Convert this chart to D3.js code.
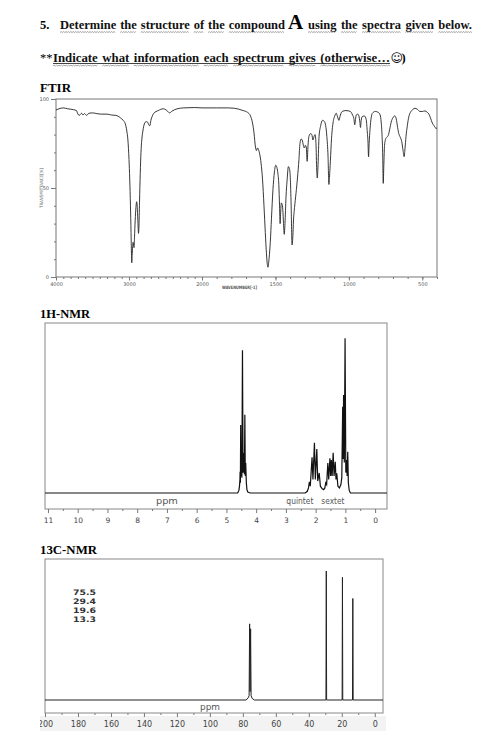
<!DOCTYPE html>
<html>
<head>
<meta charset="utf-8">
<script src="https://cdn.jsdelivr.net/npm/d3@7"></script>
<style>
body { margin: 0; background: #fff; }
svg { display: block; }
</style>
</head>
<body>
<svg id="page" width="483" height="745"></svg>
<script>
// FTIR: [wavenumber cm-1, transmittance %]
var irSpectrum = [
	[4000,93.8],[3960,94.5],[3900,95],[3840,94.5],[3760,94],[3720,93.5],[3700,91.5],[3680,90.8],[3665,91.5],[3650,92],
	[3630,91],[3610,91.8],[3580,90.8],[3550,92],[3500,92.2],[3440,91.8],[3380,91.5],[3300,91.5],[3240,91],[3180,90.8],
	[3120,89.5],[3080,88],[3050,86],[3030,82],[3015,77],[3000,66],[2990,55],[2980,40],[2972,25],[2966,13],[2962,8],
	[2957,12],[2950,17],[2944,19.5],[2937,18],[2931,16.5],[2925,22],[2915,32],[2905,39],[2895,42.3],[2885,38],[2877,30],
	[2870,24.5],[2864,28],[2856,42],[2846,58],[2836,70],[2825,77],[2810,82],[2790,86],[2765,87.3],[2745,87],[2730,85.5],
	[2715,85],[2700,88],[2680,90.5],[2660,92],[2600,93.5],[2530,94.5],[2480,93.5],[2445,92.2],[2410,93.2],[2340,94.5],
	[2250,95],[2100,95.2],[2000,95],[1900,95],[1820,95],[1780,94.8],[1750,94.3],[1720,93.5],[1690,92.5],[1670,90.5],
	[1656,86.5],[1646,81],[1636,73],[1629,71],[1622,72.5],[1615,71.5],[1607,69],[1598,64],[1588,55],[1578,40],[1569,25],
	[1561,13],[1555,7],[1551,5.5],[1547,7.5],[1541,12.5],[1535,19.5],[1527,33],[1517,49],[1507,59],[1498,62.8],[1490,61.5],
	[1483,58],[1477,52],[1472,40],[1468,30],[1464,37],[1460,41.6],[1455,41],[1450,38],[1445,30],[1440,24],[1435,30],
	[1428,45],[1420,55],[1412,62],[1405,61],[1399,56],[1393,40],[1387,18],[1382,22],[1377,32],[1370,39],[1360,47],
	[1350,55.6],[1340,66],[1333,75],[1325,77.5],[1318,77],[1310,74],[1303,72.5],[1296,74],[1290,73],[1284,65],[1278,74],
	[1272,79],[1262,80.5],[1252,80],[1245,77],[1237,79],[1230,80],[1224,75],[1219,60],[1215,55.6],[1210,63],[1203,79],
	[1192,85],[1180,88],[1168,87.5],[1158,85],[1150,79],[1142,68],[1136,52],[1132,56],[1126,65],[1118,78],[1108,86.5],
	[1096,90.5],[1086,92],[1077,90],[1068,88],[1058,91],[1045,93],[1020,93.5],[990,93],[975,91],[966,89],[960,85.5],
	[955,88.5],[950,91],[940,91.5],[932,90.5],[925,87],[921,84],[916,88],[910,90],[895,90.5],[882,88.5],[876,83],
	[870,76],[866,67.5],[862,75],[856,83],[848,89.5],[840,92],[820,93],[800,92.5],[787,91],[780,87],[775,81],[770,70],
	[766,52.6],[762,63],[757,74],[750,77.5],[742,78.5],[732,79.5],[722,83],[712,87],[700,89.5],[688,90.5],[678,89],
	[668,84],[660,80.5],[650,78.5],[640,76],[631,71],[624,67.6],[618,72],[611,79],[602,85],[592,90],[581,92.5],[566,94],
	[550,94.8],[535,94.3],[516,93],[500,93],[482,93.3],[466,92.5],[455,91.5],[445,89.5],[432,86.5],[420,85],[410,83.7],[400,83.5]
];
var irXTicks = [4000, 3000, 2000, 1500, 1000, 500];
var irYTicks = [0, 50, 100];

// 1H-NMR: [ppm, intensity %]
var h1Trace = [
	[11.1,0],[4.62,0],[4.58,1.5],[4.56,4],[4.545,8],[4.54,12.5],[4.53,6],[4.52,40],[4.51,10],[4.50,21],[4.48,9],
	[4.46,84],[4.44,12],[4.41,23.5],[4.395,11],[4.38,46],[4.365,10],[4.35,17.6],[4.33,6],[4.31,2],[4.28,0.5],[4.2,0],
	[2.35,0],[2.28,1],[2.24,3],[2.21,6.6],[2.18,4],[2.12,21],[2.09,8],[2.04,29.6],[2.01,8],[1.96,25.9],[1.93,7],
	[1.88,11.8],[1.84,4],[1.78,2.5],[1.73,2],[1.69,3],[1.66,6],[1.63,5],[1.59,17.6],[1.56,8],[1.52,20.4],[1.495,10],
	[1.47,19.4],[1.445,10],[1.41,23.7],[1.38,10],[1.34,18.4],[1.315,8],[1.29,11.6],[1.25,4],[1.2,3],[1.15,5],[1.12,9],
	[1.09,50.8],[1.075,20],[1.06,57.6],[1.035,18],[1.01,91],[0.985,12],[0.96,19.4],[0.94,10],[0.92,24.3],[0.9,6],
	[0.87,1.5],[0.83,0],[-0.4,0]
];
var h1Ticks = [11, 10, 9, 8, 7, 6, 5, 4, 3, 2, 1, 0];

// 13C-NMR: [ppm, intensity %]
var c13Trace = [
	[200,0],[78,0],[76.8,1.5],[76.2,3],[75.9,54],[75.6,6],[75.3,50.5],[75,3],[74.3,1],[73,0],
	[29.6,0],[29.4,91.5],[29.2,0],[19.8,0],[19.6,87],[19.4,0],[13.5,0],[13.3,72],[13.1,0],[-5,0]
];
var c13Ticks = [200, 180, 160, 140, 120, 100, 80, 60, 40, 20, 0];
var c13PeakList = ["75.5", "29.4", "19.6", "13.3"];

var serif = "'Liberation Serif', 'Times New Roman', serif",
	sans = "'DejaVu Sans', Verdana, sans-serif";

var svg = d3.select("#page");

// ---------- heading ----------
function place_words(list, x0, x1, y, size){
	var nodes = list.map(function(w){
		return svg.append("text")
			.attr("y", y)
			.attr("font-family", serif)
			.attr("font-weight", "bold")
			.attr("font-size", size)
			.attr("fill", "#111")
			.text(w)
	})
	var widths = nodes.map(function(n){ return n.node().getComputedTextLength() })
	var gap = (x1 - x0 - d3.sum(widths)) / (list.length - 1)
	var x = x0, spans = []
	nodes.forEach(function(n, i){
		n.attr("x", x)
		spans.push([x, x + widths[i]])
		x += widths[i] + gap
	})
	return spans
}

function squiggle(x0, x1, y){
	var d = "M" + x0 + "," + y, up = true
	for (var x = x0 + 1.2; x <= x1; x += 1.2) {
		d += "L" + x + "," + (up ? y - 0.9 : y)
		up = !up
	}
	svg.append("path").attr("d", d).attr("fill", "none")
		.attr("stroke", "#7a7a7a").attr("stroke-width", 0.7)
}

svg.append("text").attr("x", 40).attr("y", 29)
	.attr("font-family", serif).attr("font-weight", "bold").attr("font-size", 12.5)
	.text("5.")
var s1 = place_words(["Determine", "the", "structure", "of", "the", "compound"], 60, 285, 29, 12.5)
svg.append("text").attr("x", 288).attr("y", 29)
	.attr("font-family", serif).attr("font-weight", "bold").attr("font-size", 21)
	.text("A")
var s2 = place_words(["using", "the", "spectra", "given", "below."], 308, 472, 29, 12.5)
s1.concat(s2).forEach(function(s){ squiggle(s[0], s[1], 32.5) })

svg.append("text").attr("x", 40).attr("y", 62)
	.attr("font-family", serif).attr("font-size", 12.5)
	.text("**")
var s3 = place_words(["Indicate", "what", "information", "each", "spectrum", "gives", "(otherwise…"], 53, 390, 62, 12.8)
svg.append("line").attr("x1", 53).attr("x2", 390).attr("y1", 63.5).attr("y2", 63.5)
	.attr("stroke", "#111").attr("stroke-width", 0.8)
s3.forEach(function(s){ squiggle(s[0], s[1], 66) })
svg.append("text").attr("x", 390.5).attr("y", 62)
	.attr("font-family", "'DejaVu Sans', sans-serif").attr("font-weight", "bold").attr("font-size", 12)
	.text("☺")
svg.append("text").attr("x", 401.5).attr("y", 62)
	.attr("font-family", serif).attr("font-weight", "bold").attr("font-size", 12.5)
	.text(")")

function section_title(txt, y, len){
	svg.append("text").attr("x", 40).attr("y", y)
		.attr("font-family", serif).attr("font-weight", "bold").attr("font-size", 13)
		.attr("textLength", len).attr("lengthAdjust", "spacingAndGlyphs")
		.text(txt)
}
section_title("FTIR", 91.5, 31)
section_title("1H-NMR", 318, 50)
section_title("13C-NMR", 554, 57)

function style_axis(g, size, color){
	g.select(".domain").remove()
	g.selectAll(".tick line").attr("stroke", "#777")
	g.selectAll(".tick text").attr("fill", color).attr("font-size", size).attr("font-family", sans)
	g.attr("font-size", size).attr("font-family", sans)
}

// ---------- FTIR ----------
function render_ir(){
	var x = d3.scaleLinear().domain([4000, 2000, 400]).range([56, 202, 437]),
		y = d3.scaleLinear().domain([0, 100]).range([277, 99])

	var plot = svg.append("g").attr("class", "ir")

	plot.append("g").attr("transform", "translate(0,277)")
		.call(d3.axisBottom(x).tickValues(d3.range(4000, 399, -100)).tickSize(2).tickFormat(""))
		.call(style_axis, 5, "#555")
	plot.append("g").attr("transform", "translate(0,277)")
		.call(d3.axisBottom(x).tickValues(irXTicks).tickSize(3.5).tickPadding(1.5).tickFormat(d3.format("d")))
		.call(style_axis, 5, "#555")
	plot.append("g").attr("transform", "translate(56,0)")
		.call(d3.axisLeft(y).tickValues(d3.range(0, 101, 10)).tickSize(2).tickFormat(""))
		.call(style_axis, 5, "#555")
	plot.append("g").attr("transform", "translate(56,0)")
		.call(d3.axisLeft(y).tickValues(irYTicks).tickSize(5).tickPadding(2).tickFormat(d3.format("d")))
		.call(style_axis, 5, "#555")

	plot.append("rect")
		.attr("x", 56).attr("y", 99).attr("width", 381).attr("height", 178)
		.attr("fill", "none").attr("stroke", "#777")

	plot.append("text")
		.attr("transform", "translate(43,188) rotate(-90)")
		.attr("text-anchor", "middle")
		.attr("font-family", sans).attr("font-size", 4.5).attr("fill", "#666")
		.attr("textLength", 40).attr("lengthAdjust", "spacingAndGlyphs")
		.text("TRANSMITTANCE[%]")
	plot.append("text")
		.attr("x", 222).attr("y", 288.5)
		.attr("font-family", sans).attr("font-size", 4.5).attr("font-weight", "bold").attr("fill", "#555")
		.attr("textLength", 35).attr("lengthAdjust", "spacingAndGlyphs")
		.text("WAVENUMBER[-1]")

	var line = d3.line()
		.x(function(d){ return x(d[0]) })
		.y(function(d){ return y(d[1]) })
		.curve(d3.curveMonotoneX)

	plot.append("path")
		.datum(irSpectrum)
		.attr("d", line)
		.attr("fill", "none")
		.attr("stroke", "#222")
		.attr("stroke-width", 0.9)
}
render_ir()

// ---------- 1H-NMR ----------
function render_h1(){
	var x = d3.scaleLinear().domain([11.1, -0.4]).range([45, 387]),
		y = d3.scaleLinear().domain([0, 100]).range([493, 323])

	var plot = svg.append("g").attr("class", "h1")

	plot.append("rect")
		.attr("x", 45).attr("y", 323).attr("width", 342).attr("height", 186)
		.attr("fill", "none").attr("stroke", "#888")

	plot.append("g").attr("transform", "translate(0,509)")
		.call(d3.axisBottom(x).tickValues(d3.range(10.5, 0, -1)).tickSize(2).tickFormat(""))
		.call(style_axis, 7.5, "#444")
	plot.append("g").attr("transform", "translate(0,509)")
		.call(d3.axisBottom(x).tickValues(h1Ticks).tickSize(4).tickPadding(5).tickFormat(d3.format("d")))
		.call(style_axis, 7.5, "#444")

	var labels = [["ppm", 7.0, 22], ["quintet", 2.53, 27], ["sextet", 1.42, 23]]
	labels.forEach(function(l){
		plot.append("text")
			.attr("x", x(l[1])).attr("y", 504)
			.attr("text-anchor", "middle")
			.attr("font-family", sans).attr("font-size", 8).attr("fill", "#555")
			.attr("textLength", l[2]).attr("lengthAdjust", "spacingAndGlyphs")
			.text(l[0])
	})

	var line = d3.line()
		.x(function(d){ return x(d[0]) })
		.y(function(d){ return y(d[1]) })

	plot.append("path")
		.datum(h1Trace)
		.attr("d", line)
		.attr("fill", "none")
		.attr("stroke", "#111")
		.attr("stroke-width", 1.2)
}
render_h1()

// ---------- 13C-NMR ----------
function render_c13(){
	var x = d3.scaleLinear().domain([200, -5]).range([45, 383]),
		y = d3.scaleLinear().domain([0, 100]).range([700, 559])

	var plot = svg.append("g").attr("class", "c13")

	svg.append("clipPath").attr("id", "c13clip")
		.append("rect").attr("x", 40).attr("y", 700).attr("width", 350).attr("height", 40)

	var axis_g = plot.append("g").attr("clip-path", "url(#c13clip)")
	axis_g.append("rect")
		.attr("x", 40).attr("y", 716).attr("width", 346).attr("height", 15)
		.attr("fill", "#f3f3f3")
	axis_g.append("g").attr("transform", "translate(0,713)")
		.call(d3.axisBottom(x).tickValues(d3.range(190, 0, -20)).tickSize(2).tickFormat(""))
		.call(style_axis, 8, "#444")
	axis_g.append("g").attr("transform", "translate(0,713)")
		.call(d3.axisBottom(x).tickValues(c13Ticks).tickSize(4).tickPadding(4).tickFormat(d3.format("d")))
		.call(style_axis, 8, "#444")

	plot.append("rect")
		.attr("x", 45).attr("y", 559).attr("width", 338).attr("height", 154)
		.attr("fill", "none").attr("stroke", "#888")

	plot.append("text")
		.attr("x", 210).attr("y", 710)
		.attr("text-anchor", "middle")
		.attr("font-family", sans).attr("font-size", 8).attr("fill", "#555")
		.attr("textLength", 20).attr("lengthAdjust", "spacingAndGlyphs")
		.text("ppm")

	plot.selectAll("peaklist")
		.data(c13PeakList)
		.enter()
		.append("text")
		.attr("x", 73)
		.attr("y", function(d, i){ return 594.5 + i * 9 })
		.attr("font-family", sans).attr("font-size", 7.6).attr("font-weight", "bold").attr("fill", "#333")
		.attr("textLength", 23).attr("lengthAdjust", "spacingAndGlyphs")
		.text(function(d){ return d })

	var line = d3.line()
		.x(function(d){ return x(d[0]) })
		.y(function(d){ return y(d[1]) })

	plot.append("path")
		.datum(c13Trace)
		.attr("d", line)
		.attr("fill", "none")
		.attr("stroke", "#222")
		.attr("stroke-width", 1)
}
render_c13()
</script>
</body>
</html>
